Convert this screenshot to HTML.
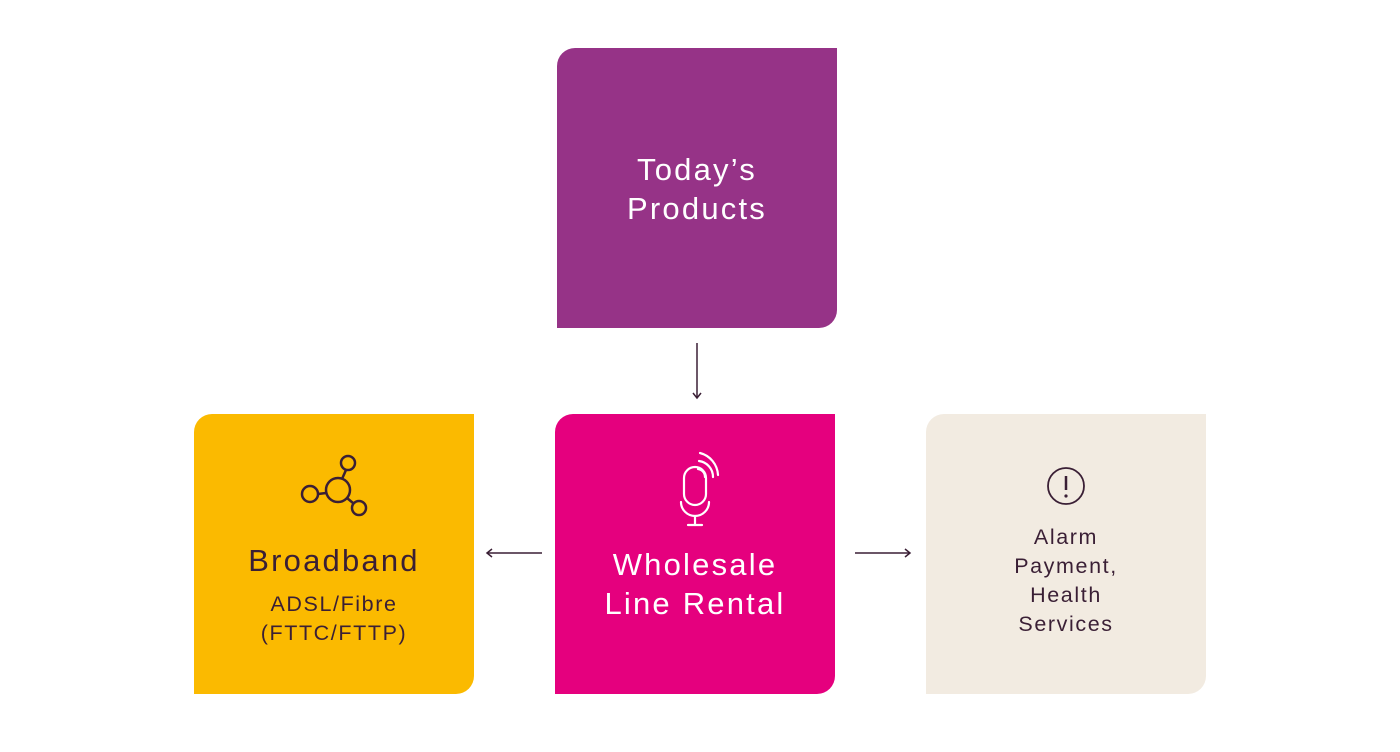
<!DOCTYPE html>
<html><head><style>
body{margin:0;width:1400px;height:752px;background:#fff;position:relative;font-family:"Liberation Sans",sans-serif;overflow:hidden}
.b{position:absolute;width:280px;height:280px;border-radius:18px 0 18px 0}
.t{position:absolute;left:0;width:100%;text-align:center;white-space:nowrap}
.L{font-size:31px;letter-spacing:2.2px}
.S{font-size:21.5px;letter-spacing:1.6px}
</style></head><body>
<div class="b" style="left:557px;top:48px;background:#963387">
<div class="t L" style="top:102px;line-height:39px;color:#fff">Today’s<br>Products</div></div>
<div class="b" style="left:194px;top:414px;background:#FBBA00;color:#3a1f35">
<div class="t L" style="top:128px;line-height:38px">Broadband</div>
<div class="t S" style="top:176px;line-height:29px">ADSL/Fibre<br>(FTTC/FTTP)</div></div>
<div class="b" style="left:555px;top:414px;background:#E5007E">
<div class="t L" style="top:131px;line-height:39px;color:#fff">Wholesale<br>Line Rental</div></div>
<div class="b" style="left:926px;top:414px;background:#F2EBE1;color:#3a1f35">
<div class="t S" style="top:109px;line-height:29px">Alarm<br>Payment,<br>Health<br>Services</div></div>
<svg width="1400" height="752" style="position:absolute;left:0;top:0" fill="none">
<g stroke="#3a1f35" stroke-width="1.5">
<line x1="697" y1="343" x2="697" y2="398"/><polyline points="693,393 697,398 701,393"/>
<line x1="487" y1="553" x2="542" y2="553"/><polyline points="492,549 487,553 492,557"/>
<line x1="855" y1="553" x2="910" y2="553"/><polyline points="905,549 910,553 905,557"/>
</g>
<g stroke="#3a1f35" stroke-width="2.5">
<circle cx="338" cy="490" r="12"/><circle cx="348" cy="463" r="7"/><circle cx="310" cy="494" r="8"/><circle cx="359" cy="508" r="7"/>
<line x1="342" y1="479" x2="346" y2="470"/><line x1="318" y1="494" x2="326" y2="493"/><line x1="347" y1="498" x2="353" y2="503"/>
</g>
<g stroke="#fff" stroke-width="2.2" stroke-linecap="round">
<rect x="684" y="467" width="22" height="38" rx="11"/>
<path d="M681 502 a14 14 0 0 0 28 0"/><line x1="695" y1="516" x2="695" y2="525"/><line x1="688" y1="525" x2="702" y2="525"/>
<path d="M698 469 a8 8 0 0 1 7 8"/><path d="M699 461 a16 16 0 0 1 14 16"/><path d="M700 453 a24 24 0 0 1 18 22"/>
</g>
<circle cx="1066" cy="486" r="18" stroke="#3a1f35" stroke-width="1.8"/>
<line x1="1066" y1="476" x2="1066" y2="490" stroke="#3a1f35" stroke-width="2.5"/>
<circle cx="1066" cy="496" r="1.6" fill="#3a1f35"/>
</svg>
</body></html>
